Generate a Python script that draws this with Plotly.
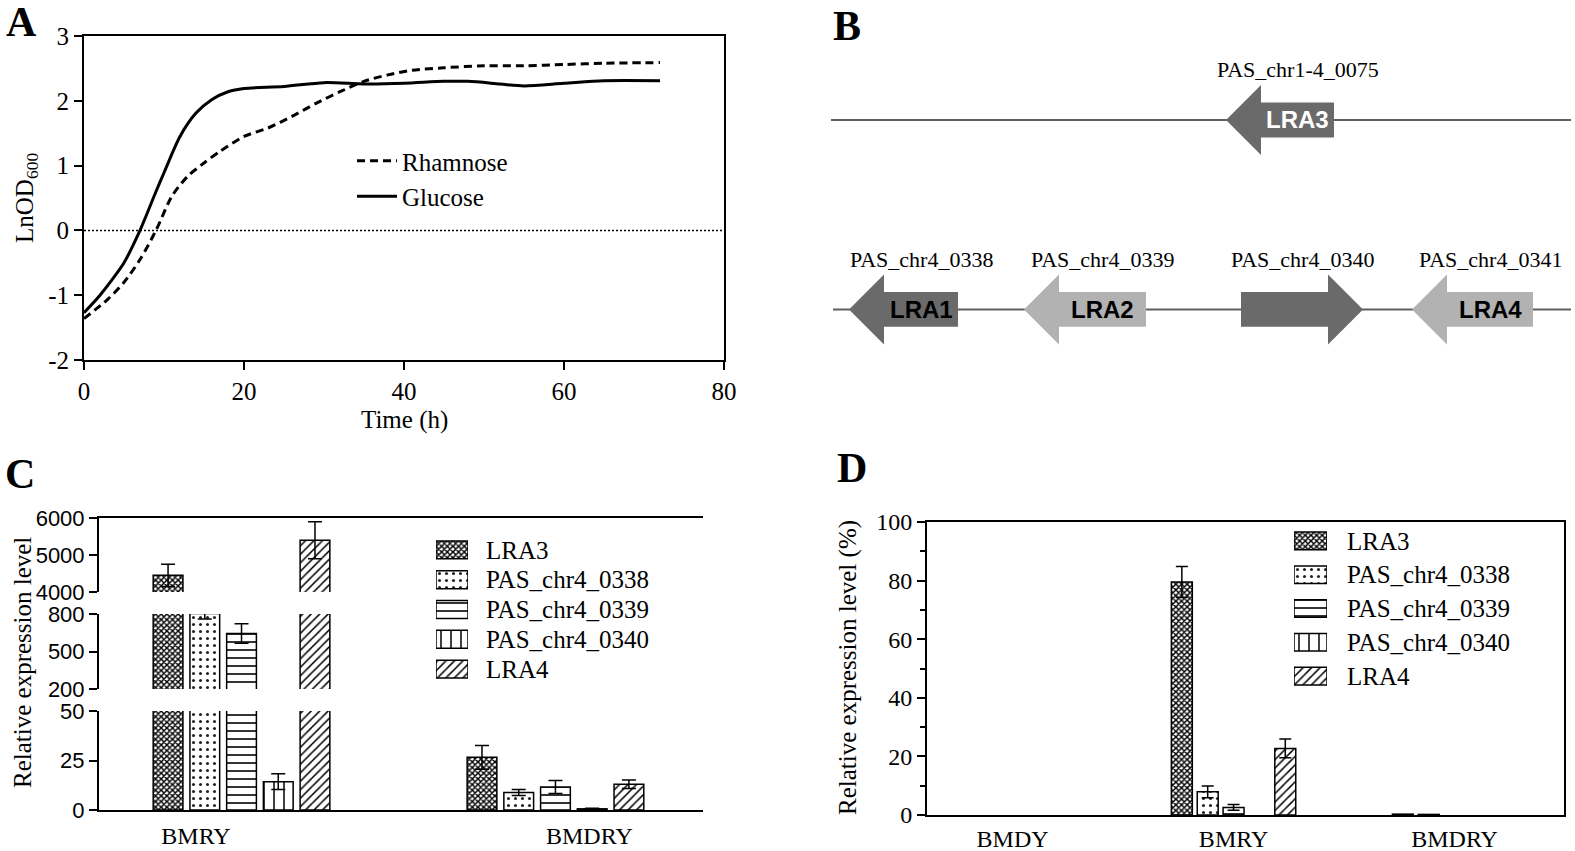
import plotly.graph_objects as go

W, H = 1575, 851

# ================= DATA =================
# ---- Panel A: growth curves (LnOD600 vs time) ----
rham_time = [0, 3, 5, 7, 9, 11, 13, 15, 17, 20, 23, 26, 29, 32, 35, 38, 41, 45, 50, 55, 60, 65, 72]
rham_lnod = [-1.36, -1.06, -0.8, -0.45, 0.0, 0.53, 0.84, 1.04, 1.22, 1.45, 1.58, 1.76, 1.96, 2.14,
             2.3, 2.4, 2.47, 2.51, 2.54, 2.54, 2.56, 2.58, 2.59]
gluc_time = [0, 2, 4, 5, 7, 9, 10, 12, 14, 16, 18, 20, 25, 30, 35, 40, 45, 48, 52, 55, 60, 65, 72]
gluc_lnod = [-1.27, -1.0, -0.68, -0.5, 0.0, 0.6, 0.89, 1.45, 1.81, 2.02, 2.14, 2.19, 2.22, 2.28,
             2.26, 2.27, 2.3, 2.3, 2.26, 2.23, 2.27, 2.31, 2.31]
a_xticks = [0, 20, 40, 60, 80]
a_yticks = [-2, -1, 0, 1, 2, 3]

# ---- Panel B: gene clusters (coordinates along each contig, arbitrary units) ----
contig_names = ["chr1-4", "chr4"]
contig_start = [0, 2]
contig_end = [740, 740]
gene_ids = ["PAS_chr1-4_0075", "PAS_chr4_0338", "PAS_chr4_0339", "PAS_chr4_0340", "PAS_chr4_0341"]
gene_names = ["LRA3", "LRA1", "LRA2", "", "LRA4"]
gene_contig = [0, 1, 1, 1, 1]
gene_start = [395, 18, 193, 410, 581]
gene_end = [503, 127, 315, 532, 702]
gene_strand = ["-", "-", "-", "+", "-"]

# ---- Panel C: relative expression level (broken axis) ----
series_names = ["LRA3", "PAS_chr4_0338", "PAS_chr4_0339", "PAS_chr4_0340", "LRA4"]
c_strains = ["BMRY", "BMDRY"]
c_lra3 = [4450, 26.6]
c_lra3_err = [300, 6.0]
c_0338 = [805, 8.8]
c_0338_err = [45, 1.5]
c_0339 = [645, 11.6]
c_0339_err = [78, 3.3]
c_0340 = [14.3, 0.6]
c_0340_err = [4.0, 0.3]
c_lra4 = [5400, 13.0]
c_lra4_err = [500, 2.2]
c_segments = [(4000, 6000), (200, 800), (0, 50)]
c_seg_ticks = [[4000, 5000, 6000], [200, 500, 800], [0, 25, 50]]

# ---- Panel D: relative expression level (%) ----
d_strains = ["BMDY", "BMRY", "BMDRY"]
d_lra3 = [0, 79.5, 0.3]
d_lra3_err = [None, 5.3, None]
d_0338 = [0, 7.9, 0.2]
d_0338_err = [None, 2.0, None]
d_0339 = [0, 2.6, 0]
d_0339_err = [None, 1.0, None]
d_0340 = [0, 0, 0]
d_0340_err = [None, None, None]
d_lra4 = [0, 22.7, 0]
d_lra4_err = [None, 3.2, None]
d_yticks = [0, 20, 40, 60, 80, 100]
d_minor = [10, 30, 50, 70, 90]

# ================= STYLE =================
TIMES = "Times New Roman, Liberation Serif, serif"
ARIAL = "Arial, Liberation Sans, sans-serif"
DARK = "#6a6a6a"
LIGHT = "#b2b2b2"
gene_fill = [DARK, DARK, LIGHT, DARK, LIGHT]
gene_text_color = ["white", "black", "black", "black", "black"]

patterns = [
    dict(shape="x", size=4, solidity=0.6, fgcolor="black", bgcolor="white"),
    dict(shape=".", size=7, solidity=0.15, fgcolor="#222222", bgcolor="white"),
    dict(shape="-", size=8, solidity=0.2, fgcolor="black", bgcolor="white"),
    dict(shape="|", size=10, solidity=0.15, fgcolor="black", bgcolor="white"),
    dict(shape="/", size=6, solidity=0.25, fgcolor="black", bgcolor="white"),
]

BARGAP = 0.415
BARGROUPGAP = 0.19


def xdom(a, b):
    return [a / W, b / W]


def ydom(top, bot):
    return [1 - bot / H, 1 - top / H]


def px(x):
    return x / W


def py(y):
    return 1 - y / H


def visible_points(cats, vals, errs):
    """Keep only bars that are drawn (non-zero); trailing missing errors are dropped."""
    idx = [j for j, v in enumerate(vals) if v]
    xs = [cats[j] for j in idx]
    ys = [vals[j] for j in idx]
    es = [errs[j] for j in idx]
    while es and es[-1] is None:
        es.pop()
    return xs, ys, es


axis_common = dict(showgrid=False, zeroline=False, showline=True, linecolor="black", linewidth=2,
                   ticks="outside", tickwidth=2, tickcolor="black", ticklen=8, automargin=False)

fig = go.Figure()

# ---------- Panel A ----------
fig.add_trace(go.Scatter(x=rham_time, y=rham_lnod, mode="lines", name="Rhamnose",
                         line=dict(color="black", width=3, dash="8px,5px", shape="spline", smoothing=0.8),
                         xaxis="x", yaxis="y"))
fig.add_trace(go.Scatter(x=gluc_time, y=gluc_lnod, mode="lines", name="Glucose",
                         line=dict(color="black", width=3, shape="spline", smoothing=0.8),
                         xaxis="x", yaxis="y"))

shapes = [dict(type="line", xref="x domain", yref="y", x0=0, x1=1, y0=0, y1=0,
               line=dict(color="black", width=1.5, dash="2px,2px"))]
annotations = []

# ---------- Panel B ----------
HEAD = 35
HH = 0.185
BH = 0.092
for ci in range(len(contig_names)):
    yrow = 1 - ci
    shapes.append(dict(type="line", xref="x2", yref="y2", x0=contig_start[ci], x1=contig_end[ci],
                       y0=yrow, y1=yrow, line=dict(color="#5f5f5f", width=2), layer="above"))
for gi in range(len(gene_ids)):
    yrow = 1 - gene_contig[gi]
    s, e = gene_start[gi], gene_end[gi]
    if gene_strand[gi] == "-":
        tip, base, tail = s, s + HEAD, e
        body_c = (base + tail) / 2
        lab_c = body_c
    else:
        tip, base, tail = e, e - HEAD, s
        body_c = (base + tail) / 2
        lab_c = (s + e) / 2
    path = (f"M{tip},{yrow} L{base},{yrow + HH} L{base},{yrow + BH} L{tail},{yrow + BH} "
            f"L{tail},{yrow - BH} L{base},{yrow - BH} L{base},{yrow - HH} Z")
    shapes.append(dict(type="path", xref="x2", yref="y2", path=path, fillcolor=gene_fill[gi],
                       line=dict(width=0), layer="above"))
    if gene_names[gi]:
        annotations.append(dict(x=body_c, y=yrow, xref="x2", yref="y2", text=f"<b>{gene_names[gi]}</b>",
                                showarrow=False, xanchor="center", yanchor="middle",
                                font=dict(family=ARIAL, size=24, color=gene_text_color[gi])))
    annotations.append(dict(x=lab_c, y=yrow, xref="x2", yref="y2", text=gene_ids[gi], yshift=50,
                            showarrow=False, xanchor="center", yanchor="middle",
                            font=dict(family=TIMES, size=22, color="black")))

# ---------- Panel C ----------
c_vals = [c_lra3, c_0338, c_0339, c_0340, c_lra4]
c_errs = [c_lra3_err, c_0338_err, c_0339_err, c_0340_err, c_lra4_err]
c_x = list(range(len(c_strains)))
for k in range(len(c_segments)):
    for i, name in enumerate(series_names):
        fig.add_trace(go.Bar(x=c_x, y=c_vals[i], name=name, showlegend=False,
                             error_y=dict(type="data", array=c_errs[i], visible=True, color="black",
                                          thickness=1.5, width=7),
                             marker=dict(color="white", line=dict(color="black", width=1.5),
                                         pattern=patterns[i]),
                             xaxis=f"x{3 + k}", yaxis=f"y{3 + k}"))


def key_pattern():
    return dict(shape=[p["shape"] for p in patterns], size=[p["size"] for p in patterns],
                solidity=[p["solidity"] for p in patterns], fgcolor=[p["fgcolor"] for p in patterns],
                bgcolor=[p["bgcolor"] for p in patterns])


# legend keys for C and D
fig.add_trace(go.Bar(y=series_names, x=[1 for _ in series_names], orientation="h", width=0.6,
                     showlegend=False,
                     marker=dict(color="white", line=dict(color="black", width=1.5), pattern=key_pattern()),
                     xaxis="x7", yaxis="y7"))
fig.add_trace(go.Bar(y=series_names, x=[1 for _ in series_names], orientation="h", width=0.52,
                     showlegend=False,
                     marker=dict(color="white", line=dict(color="black", width=1.5), pattern=key_pattern()),
                     xaxis="x8", yaxis="y8"))

# ---------- Panel D ----------
d_vals = [d_lra3, d_0338, d_0339, d_0340, d_lra4]
d_errs = [d_lra3_err, d_0338_err, d_0339_err, d_0340_err, d_lra4_err]
n_series = len(series_names)
slot = (1 - BARGAP) / n_series
bar_w = slot * (1 - BARGROUPGAP)
for i, name in enumerate(series_names):
    xs, ys, es = visible_points(d_strains, d_vals[i], d_errs[i])
    offset = -(1 - BARGAP) / 2 + i * slot + (slot - bar_w) / 2
    fig.add_trace(go.Bar(x=xs, y=ys, name=name, showlegend=False, offset=offset, width=bar_w,
                         error_y=dict(type="data", array=es, visible=True, color="black",
                                      thickness=1.5, width=6),
                         marker=dict(color="white", line=dict(color="black", width=1.5),
                                     pattern=patterns[i]),
                         xaxis="x6", yaxis="y6"))

# ---------- Text annotations ----------
letter_font = dict(family=TIMES, size=42, color="black")
for letter, (lx, ly) in zip("ABCD", [(21, 22), (847, 26), (20, 474), (852, 468)]):
    annotations.append(dict(x=px(lx), y=py(ly), xref="paper", yref="paper", text=f"<b>{letter}</b>",
                            showarrow=False, xanchor="center", yanchor="middle", font=letter_font))

title_font = dict(family=TIMES, size=25, color="black")
annotations += [
    dict(x=px(404), y=py(420), xref="paper", yref="paper", text="Time (h)", showarrow=False,
         xanchor="center", yanchor="middle", font=title_font),
    dict(x=px(26), y=py(198), xref="paper", yref="paper", text="LnOD<sub>600</sub>", showarrow=False,
         xanchor="center", yanchor="middle", textangle=-90, font=title_font),
    dict(x=px(22), y=py(663), xref="paper", yref="paper", text="Relative expression level", showarrow=False,
         xanchor="center", yanchor="middle", textangle=-90, font=dict(family=TIMES, size=25, color="black")),
    dict(x=px(848), y=py(668), xref="paper", yref="paper", text="Relative expression level (%)",
         showarrow=False, xanchor="center", yanchor="middle", textangle=-90,
         font=dict(family=TIMES, size=25, color="black")),
]

tick_times = dict(family=TIMES, size=25, color="black")
tick_times_c = dict(family=TIMES, size=24, color="black")
tick_arial = dict(family=ARIAL, size=22, color="black")
key_font = dict(family=TIMES, size=25, color="black")

c_xrange = [-0.454, 1.47]
c_label_pos = [-0.145, 1.108]
c_dom_x = xdom(99, 703)
c_dom_y = [ydom(518, 592), ydom(614, 689), ydom(711, 810)]

layout = dict(
    template="none",
    width=W, height=H, margin=dict(l=0, r=0, t=0, b=0, pad=0, autoexpand=False), autosize=False,
    paper_bgcolor="white", plot_bgcolor="white",
    font=dict(family=TIMES, color="black"),
    barmode="group", bargap=BARGAP, bargroupgap=BARGROUPGAP,
    showlegend=True,
    legend=dict(x=px(352), y=py(138), xanchor="left", yanchor="top", bgcolor="rgba(0,0,0,0)",
                font=dict(family=TIMES, size=25, color="black"), itemwidth=40, traceorder="normal",
                borderwidth=0),
    # Panel A
    xaxis=dict(domain=xdom(84, 724), range=[0, 80], tickvals=a_xticks, ticktext=[str(v) for v in a_xticks],
               mirror=True, anchor="y", tickfont=tick_times, **axis_common),
    yaxis=dict(domain=ydom(36, 360), range=[-2, 3], tickvals=a_yticks, ticktext=[str(v) for v in a_yticks],
               mirror=True, anchor="x", tickfont=tick_times, **axis_common),
    # Panel B
    xaxis2=dict(domain=xdom(831, 1571), range=[0, 740], visible=False, anchor="y2", automargin=False),
    yaxis2=dict(domain=ydom(40, 400), range=[-0.478, 1.422], visible=False, anchor="x2", automargin=False),
    # Panel C
    xaxis3=dict(domain=c_dom_x, range=c_xrange, anchor="y3", side="top", showline=True, linecolor="black",
                linewidth=2, showticklabels=False, ticks="", showgrid=False, zeroline=False, automargin=False),
    xaxis4=dict(domain=c_dom_x, range=c_xrange, anchor="y4", visible=False, automargin=False),
    xaxis5=dict(domain=c_dom_x, range=c_xrange, anchor="y5", showline=True, linecolor="black", linewidth=2,
                tickvals=c_label_pos, ticktext=c_strains, ticks="outside", ticklen=3,
                tickcolor="rgba(0,0,0,0)", showgrid=False, zeroline=False, tickfont=tick_times_c,
                automargin=False),
    # Panel D
    xaxis6=dict(domain=xdom(927, 1564), type="category", categoryorder="array", categoryarray=d_strains,
                range=[-0.387, 2.495], anchor="y6", showline=True, mirror=True, linecolor="black", linewidth=2,
                ticks="outside", ticklen=1, tickcolor="rgba(0,0,0,0)", showgrid=False, zeroline=False,
                tickfont=tick_times_c, automargin=False),
    yaxis6=dict(domain=ydom(522, 815), range=[0, 100], tickvals=d_yticks, ticktext=[str(v) for v in d_yticks],
                mirror=True, anchor="x6", tickfont=tick_times_c,
                minor=dict(tickvals=d_minor, ticks="outside", ticklen=5, tickwidth=1.5, tickcolor="black"),
                **axis_common),
    # legend keys
    xaxis7=dict(domain=xdom(436, 468), range=[0, 1], visible=False, anchor="y7", automargin=False),
    yaxis7=dict(domain=ydom(535, 684), type="category", categoryorder="array", categoryarray=series_names,
                tickmode="array", tickvals=series_names, ticktext=series_names,
                range=[len(series_names) - 0.5, -0.5], side="right", anchor="x7", showline=False,
                showgrid=False, zeroline=False, ticks="outside", ticklen=12, tickcolor="rgba(0,0,0,0)",
                tickfont=key_font, automargin=False),
    xaxis8=dict(domain=xdom(1294, 1327), range=[0, 1], visible=False, anchor="y8", automargin=False),
    yaxis8=dict(domain=ydom(524, 693), type="category", categoryorder="array", categoryarray=series_names,
                tickmode="array", tickvals=series_names, ticktext=series_names,
                range=[len(series_names) - 0.5, -0.5], side="right", anchor="x8", showline=False,
                showgrid=False, zeroline=False, ticks="outside", ticklen=14, tickcolor="rgba(0,0,0,0)",
                tickfont=key_font, automargin=False),
    shapes=shapes,
    annotations=annotations,
)
for k in range(len(c_segments)):
    lo, hi = c_segments[k]
    layout[f"yaxis{3 + k}"] = dict(domain=c_dom_y[k], range=[lo, hi], tickvals=c_seg_ticks[k],
                                   ticktext=[str(v) for v in c_seg_ticks[k]], anchor=f"x{3 + k}",
                                   tickfont=tick_arial, **axis_common)

fig.update_layout(**layout)
fig.write_html("out.html", config={"displayModeBar": False, "responsive": False},
               post_script="document.body.style.margin='0';document.body.style.overflow='hidden';")
